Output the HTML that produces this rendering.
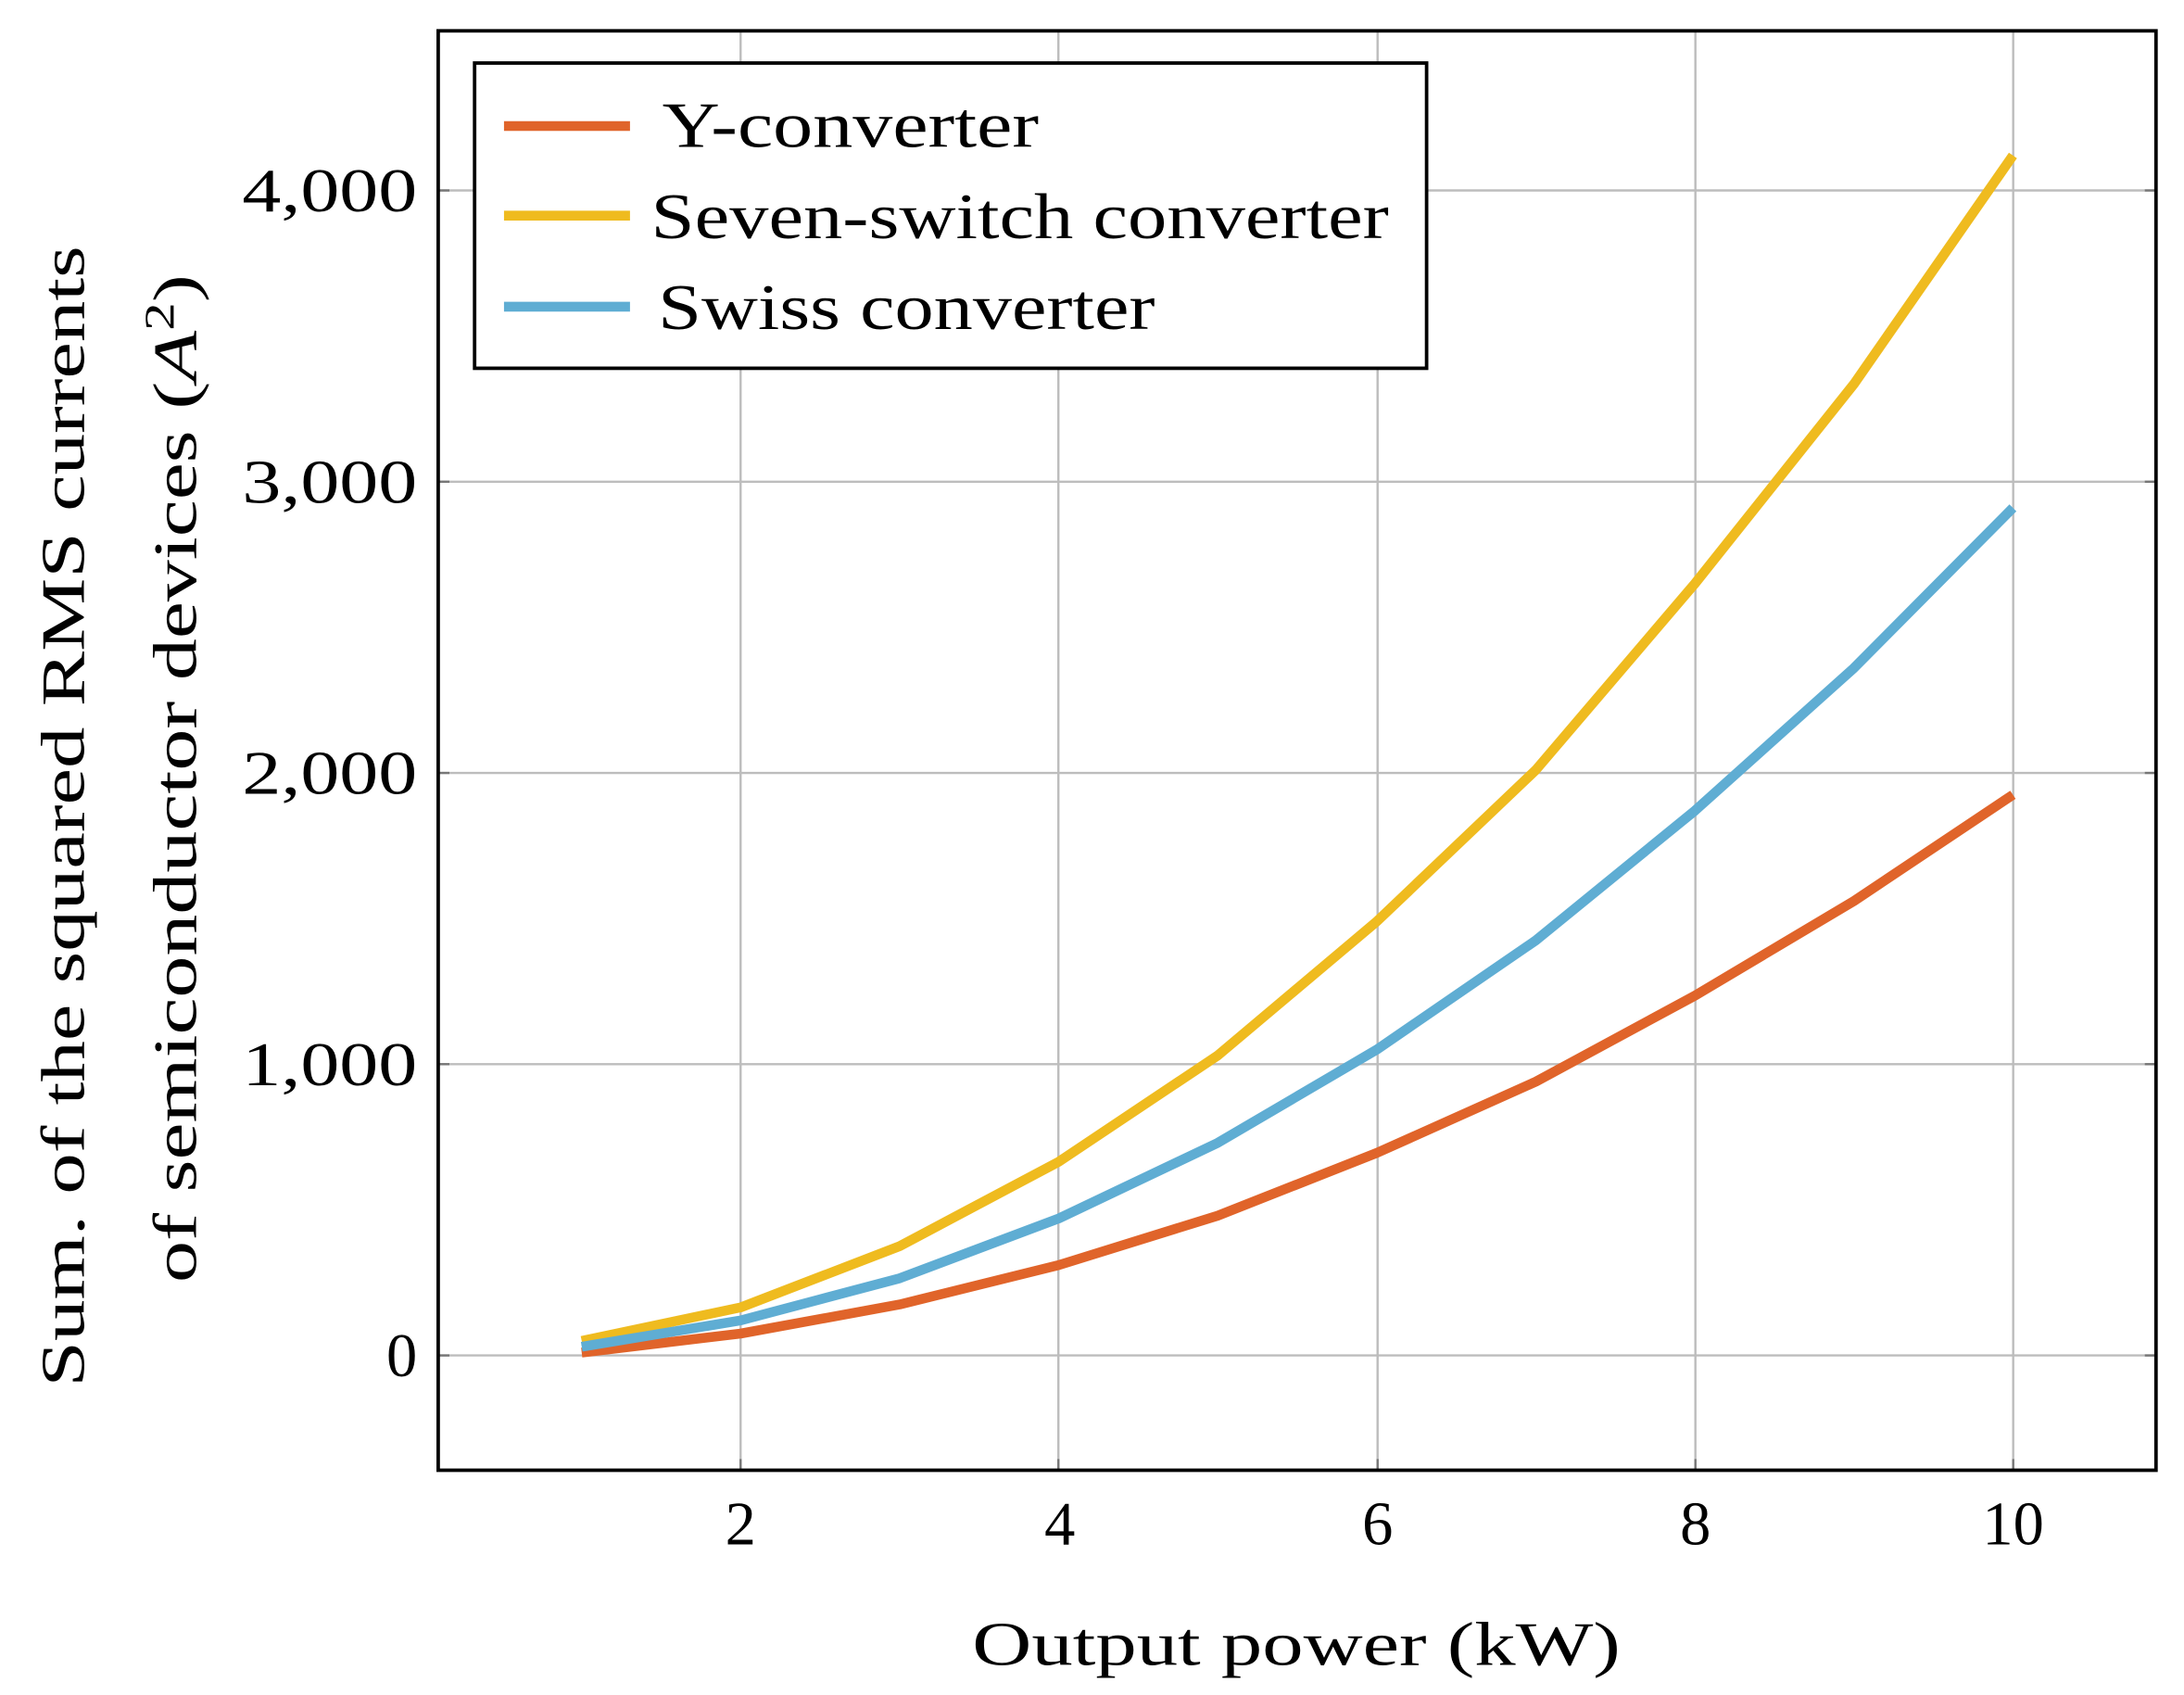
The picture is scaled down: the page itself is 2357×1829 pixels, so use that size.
<!DOCTYPE html>
<html><head><meta charset="utf-8"><style>html,body{margin:0;padding:0;background:#fff}svg{display:block}</style></head><body>
<svg width="2357" height="1829" viewBox="0 0 1560 1210.5" xmlns="http://www.w3.org/2000/svg" font-family="Liberation Serif, serif">
<rect width="1560" height="1210.5" fill="#fff"/>
<g stroke="#bdbdbd" stroke-width="1.6">
<line x1="529" y1="22" x2="529" y2="1050"/><line x1="756" y1="22" x2="756" y2="1050"/><line x1="984" y1="22" x2="984" y2="1050"/><line x1="1211" y1="22" x2="1211" y2="1050"/><line x1="1438" y1="22" x2="1438" y2="1050"/>
<line x1="313" y1="968" x2="1540" y2="968"/><line x1="313" y1="760" x2="1540" y2="760"/><line x1="313" y1="552" x2="1540" y2="552"/><line x1="313" y1="344" x2="1540" y2="344"/><line x1="313" y1="136" x2="1540" y2="136"/>
</g>
<g stroke="#777" stroke-width="1.6">
<line x1="529" y1="1050" x2="529" y2="1042"/><line x1="756" y1="1050" x2="756" y2="1042"/><line x1="984" y1="1050" x2="984" y2="1042"/><line x1="1211" y1="1050" x2="1211" y2="1042"/><line x1="1438" y1="1050" x2="1438" y2="1042"/>
<line x1="313" y1="968" x2="321" y2="968"/><line x1="313" y1="760" x2="321" y2="760"/><line x1="313" y1="552" x2="321" y2="552"/><line x1="313" y1="344" x2="321" y2="344"/><line x1="313" y1="136" x2="321" y2="136"/>
<line x1="1540" y1="968" x2="1532" y2="968"/><line x1="1540" y1="760" x2="1532" y2="760"/><line x1="1540" y1="552" x2="1532" y2="552"/><line x1="1540" y1="344" x2="1532" y2="344"/><line x1="1540" y1="136" x2="1532" y2="136"/>
</g>
<g fill="none" stroke-width="7" stroke-linejoin="round">
<polyline stroke="#e0642a" points="415.5,966 529,952.4 642.6,931.6 756.2,903.5 869.8,868.2 983.4,823.4 1097,772.5 1210.6,711.1 1324.2,643.5 1437.8,567.6"/>
<polyline stroke="#efbb1f" points="415.5,957.6 529,933.7 642.6,890 756.2,829.7 869.8,753.8 983.4,658.1 1097,549.9 1210.6,416.8 1324.2,274.3 1437.8,111"/>
<polyline stroke="#5fadd3" points="415.5,961.8 529,943 642.6,912.9 756.2,870.2 869.8,816.2 983.4,749.6 1097,671.6 1210.6,579 1324.2,477.1 1437.8,362.7"/>
</g>
<rect x="313" y="22" width="1227" height="1028" fill="none" stroke="#000" stroke-width="2.5"/>
<rect x="339" y="45" width="680" height="218" fill="#fff" stroke="#000" stroke-width="2.5"/>
<line x1="360" y1="90" x2="450" y2="90" stroke="#e0642a" stroke-width="7"/>
<line x1="360" y1="154" x2="450" y2="154" stroke="#efbb1f" stroke-width="7"/>
<line x1="360" y1="219" x2="450" y2="219" stroke="#5fadd3" stroke-width="7"/>
<g font-size="46" fill="#000">
<text x="473" y="105" textLength="269" lengthAdjust="spacingAndGlyphs">Y-converter</text>
<text x="465" y="170" textLength="527" lengthAdjust="spacingAndGlyphs">Seven-switch converter</text>
<text x="470" y="235" textLength="355" lengthAdjust="spacingAndGlyphs">Swiss converter</text>
</g>
<g font-size="44" fill="#000" text-anchor="end">
<text x="298" y="983">0</text>
<text x="298" y="775" textLength="125" lengthAdjust="spacingAndGlyphs">1,000</text>
<text x="298" y="567" textLength="125" lengthAdjust="spacingAndGlyphs">2,000</text>
<text x="298" y="359" textLength="125" lengthAdjust="spacingAndGlyphs">3,000</text>
<text x="298" y="151" textLength="125" lengthAdjust="spacingAndGlyphs">4,000</text>
</g>
<g font-size="44" fill="#000" text-anchor="middle">
<text x="529" y="1103">2</text><text x="757" y="1103">4</text><text x="984" y="1103">6</text><text x="1211" y="1103">8</text><text x="1438" y="1103">10</text>
<text x="926" y="1189" textLength="463" lengthAdjust="spacingAndGlyphs">Output power (kW)</text>
<text transform="translate(60,583) rotate(-90)" textLength="815" lengthAdjust="spacingAndGlyphs">Sum. of the squared RMS currents</text>
<text transform="translate(140,556) rotate(-90)" textLength="720" lengthAdjust="spacingAndGlyphs">of semiconductor devices (<tspan font-style="italic">A</tspan><tspan font-size="30" dy="-16">2</tspan><tspan dy="16">)</tspan></text>
</g>
</svg>
</body></html>
